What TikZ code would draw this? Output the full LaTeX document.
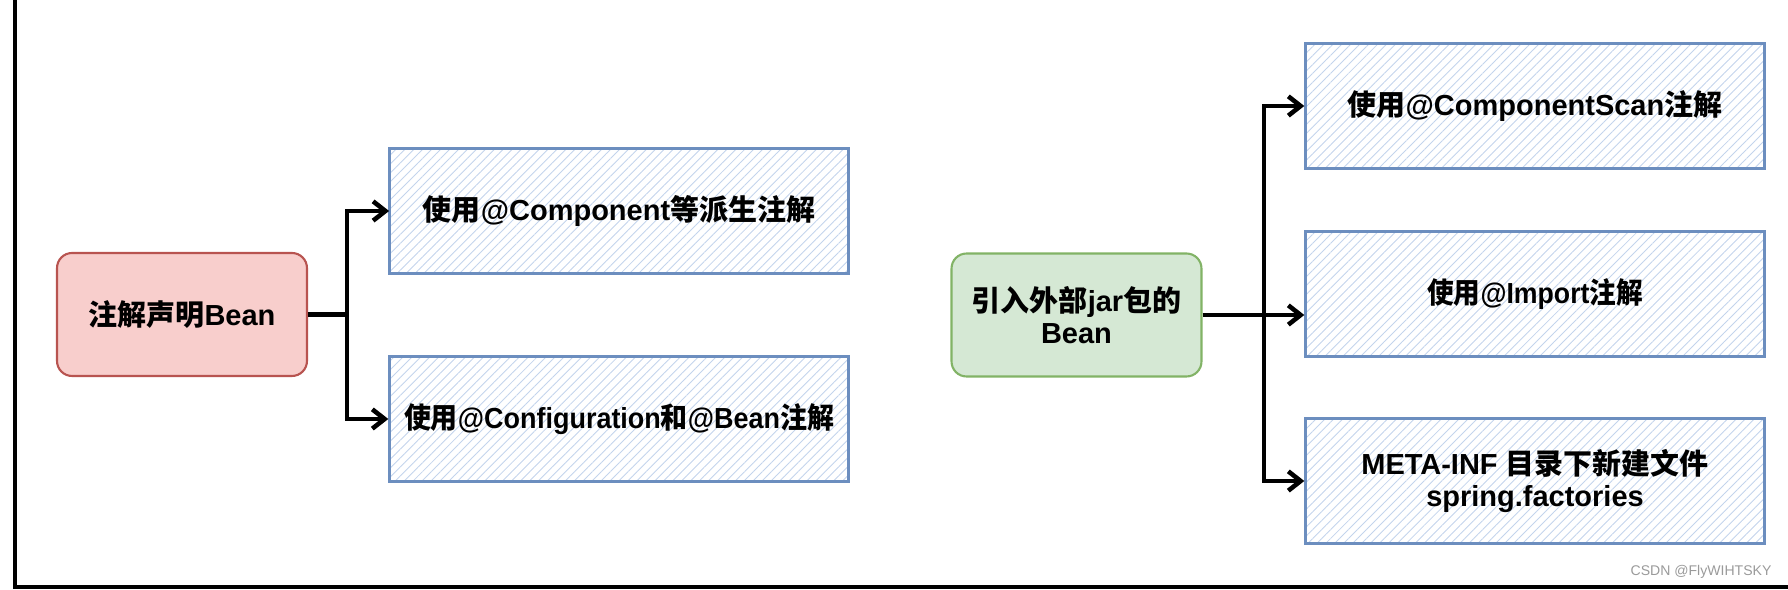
\documentclass[tikz,border=0pt]{standalone}
\usepackage{fontspec}
\setmainfont{Liberation Sans}
\newfontfamily\cjk{Noto Sans CJK SC}
\newcommand{\zh}[1]{{\cjk #1}}
\usetikzlibrary{positioning,arrows.meta,patterns.meta}
\definecolor{redfill}{HTML}{F8CECC}
\definecolor{redline}{HTML}{B85450}
\definecolor{greenfill}{HTML}{D5E8D4}
\definecolor{greenline}{HTML}{82B366}
\definecolor{blueline}{HTML}{6C8EBF}
\definecolor{bluehatch}{HTML}{C3D4EC}
\definecolor{markgray}{HTML}{9A9A9A}

\begin{document}
\begin{tikzpicture}[x=0.02cm,y=-0.02cm]
\tikzstyle{txt}=[font=\fontsize{16.5}{18.5}\selectfont\bfseries,align=center,inner sep=0pt]
\tikzstyle{src}=[txt,rounded corners=0.3cm,line width=1.2pt,minimum width=5cm,minimum height=2.46cm]
\tikzstyle{way}=[txt,draw=blueline,line width=1.4pt,pattern={Lines[angle=45,distance=3.6pt,line width=0.5pt]},pattern color=bluehatch,minimum width=9.18cm,minimum height=2.5cm]
\tikzstyle{ed}=[draw=black,line width=2.6pt]
\tikzstyle{arr}=[ed,-{Straight Barb[length=7pt,width=11pt]}]
\useasboundingbox (0,0) rectangle (1788,590);
\draw [line width=2.2pt] (15,0) -- (15,587) -- (1788,587);
% left group
\node [src,draw=redline,fill=redfill] (anno) at (182,314.5) {\zh{注解声明}Bean};
\node [way] (comp) at (619,211) {\zh{使用}@Component\zh{等派生注解}};
\node [way] (conf) at (619,419) {\scalebox{0.93}[1]{\zh{使用}@Configuration\zh{和}@Bean\zh{注解}}};
\coordinate (lj) at (347,314.5);
\draw [ed] (anno.east) -- (lj);
\draw [arr] (lj) |- (comp.west);
\draw [arr] (lj) |- (conf.west);
% right group
\node [src,draw=greenline,fill=greenfill] (jar) at (1076.5,315) {\zh{引入外部}jar\zh{包的}\\Bean};
\node [way] (scan) at (1535,106) {\zh{使用}@ComponentScan\zh{注解}};
\node [way] (imp) at (1535,294) {\scalebox{0.92}[1]{\zh{使用}@Import\zh{注解}}};
\node [way] (meta) at (1535,481) {META-INF \zh{目录下新建文件}\\spring.factories};
\coordinate (rj) at (1264,315);
\draw [ed] (jar.east) -- (rj);
\draw [arr] (rj) |- (scan.west);
\draw [arr] (rj) -- (rj -| imp.west);
\draw [arr] (rj) |- (meta.west);
\node [font=\fontsize{8}{9}\selectfont,text=markgray] (mark) at (1701,572) {CSDN @FlyWIHTSKY};
\end{tikzpicture}
\end{document}
